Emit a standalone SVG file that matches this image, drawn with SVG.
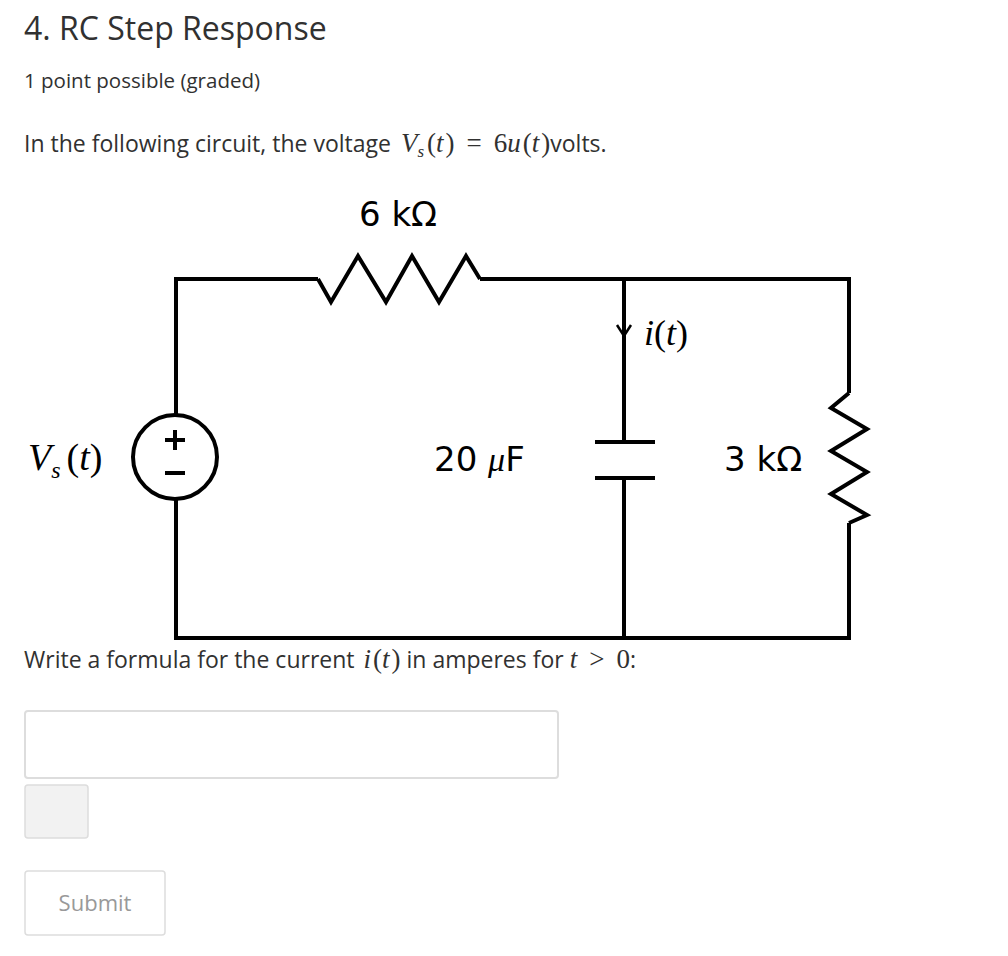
<svg xmlns="http://www.w3.org/2000/svg" width="1008" height="956" viewBox="0 0 1008 956">
<style>
.w{fill:none;stroke:#000;stroke-width:4;stroke-linejoin:miter}
.t{font-family:"Open Sans",sans-serif;fill:#313131}
.m{font-family:"Liberation Serif",serif;font-style:italic}
.c{font-family:"DejaVu Sans",sans-serif;fill:#000}
</style>
<rect width="1008" height="956" fill="#fff"/>
<text class="t" x="24" y="40" font-size="32">4. RC Step Response</text>
<text class="t" x="24" y="88" font-size="20.5">1 point possible (graded)</text>
<text class="t" x="24" y="152" font-size="23">In the following circuit, the voltage <tspan class="m" font-size="27" dx="4">V<tspan font-size="17" dy="5">s</tspan><tspan dy="-5" dx="3" font-style="normal">(</tspan>t<tspan font-style="normal" dx="2">)</tspan><tspan font-style="normal" dx="12">=</tspan><tspan font-style="normal" dx="12">6</tspan>u<tspan font-style="normal" dx="2">(</tspan>t<tspan font-style="normal" dx="2">)</tspan></tspan>volts.</text>
<g id="wires">
<path class="w" d="M176,415 V279 H318 M480,279 H849 V393 M849,523 V638 H176 V500 M624,279 V442 M624,478 V638"/>
</g>
<g id="r1"><path class="w" d="M318,279 L331,302 L358,256 L386,302 L412,256 L439,302 L466,256 L480,279"/>
<text class="c" x="398" y="226" font-size="34" text-anchor="middle">6 kΩ</text></g>
<g id="src"><circle class="w" cx="175" cy="457" r="42"/>
<path class="w" d="M175,430 V450 M165,440 H185 M165,473 H185"/>
<text class="m" x="28" y="470" font-size="38">V<tspan font-size="24" dy="8">s</tspan><tspan dy="-8" dx="6" font-style="normal">(</tspan>t<tspan font-style="normal">)</tspan></text></g>
<g id="cap"><path class="w" d="M595,442 H655 M595,478 H655"/>
<text class="c" x="434" y="471" font-size="34">20 <tspan class="m">μ</tspan>F</text></g>
<g id="i"><path d="M617,325 L624,336 L631,325" fill="none" stroke="#000" stroke-width="2.5"/>
<text class="m" x="644" y="345" font-size="36">i<tspan font-style="normal">(</tspan>t<tspan font-style="normal">)</tspan></text></g>
<g id="r2"><path class="w" d="M849,393 L831,408 L867,429 L831,451 L867,472 L831,494 L867,515 L849,523"/>
<text class="c" x="724" y="471" font-size="34">3 kΩ</text></g>
<text class="t" x="24" y="668" font-size="23">Write a formula for the current <tspan class="m" font-size="27" dx="3">i<tspan font-style="normal" dx="2">(</tspan>t<tspan font-style="normal" dx="2">)</tspan></tspan> in amperes for <tspan class="m" font-size="27">t<tspan font-style="normal" dx="12">&gt;</tspan><tspan font-style="normal" dx="12">0</tspan></tspan>:</text>
<rect x="25" y="711" width="533" height="67" rx="3" fill="#fff" stroke="#ddd" stroke-width="2"/>
<rect x="25" y="785" width="63" height="53" rx="3" fill="#f2f2f2" stroke="#ddd" stroke-width="1.5"/>
<rect x="25" y="871" width="140" height="64" rx="3" fill="#fff" stroke="#ddd" stroke-width="1.5"/>
<text class="t" x="95" y="911" font-size="22" text-anchor="middle" style="fill:#999">Submit</text>
</svg>
